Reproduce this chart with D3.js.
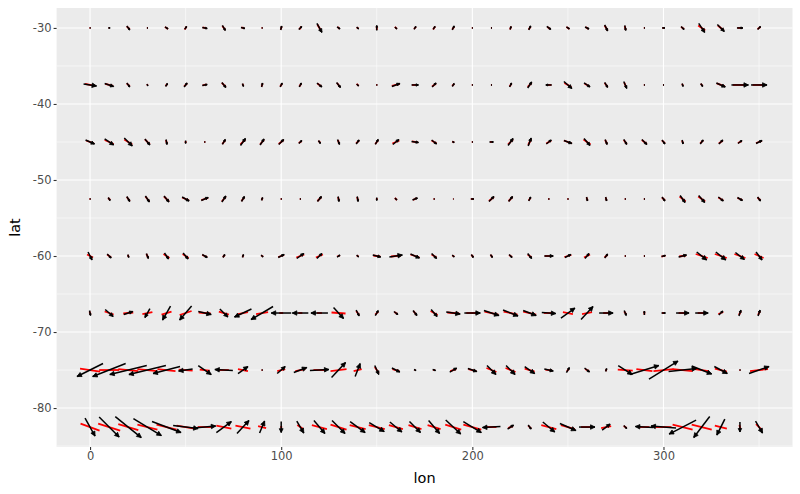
<!DOCTYPE html>
<html>
<head>
<meta charset="utf-8">
<script src="https://cdn.jsdelivr.net/npm/d3@7"></script>
<style>
  body { margin: 0; background: #fff; }
  text { font-family: "DejaVu Sans", sans-serif; }
</style>
</head>
<body>
<svg id="chart" width="800" height="494"></svg>
<script>
'use strict';

// grid of the field
var lons = [0, 10, 20, 30, 40, 50, 60, 70, 80, 90, 100, 110, 120, 130, 140, 150, 160, 170,
            180, 190, 200, 210, 220, 230, 240, 250, 260, 270, 280, 290, 300, 310, 320, 330, 340, 350];
var lats = [-30, -37.5, -45, -52.5, -60, -67.5, -75, -82.5];

var xTicks = [0, 100, 200, 300];
var yTicks = [-80, -70, -60, -50, -40, -30];

// black arrows, [u, v] per lon, one row per lat
var blackVec = [
  [[1,0],[2,0],[3,-4],[1,0],[3,-2],[2,3],[5,-1],[3,-5],[4,-1],[1,0],[1,4],[3,3],[5,-9],[3,-2],[2,-2],[0,5],[2,-2],[2,3],
   [2,3],[2,4],[1,0],[1,0],[1,3],[2,4],[4,-3],[3,-2],[4,-2],[3,-6],[1,-5],[1,0],[3,0],[3,-3],[6,-9],[7,-7],[6,0],[3,3]],
  [[13,-2],[9,-3],[3,-4],[1,-2],[2,3],[3,4],[5,1],[4,-5],[1,-3],[1,4],[2,4],[2,4],[5,-4],[4,-5],[2,-2],[1,0],[8,3],[7,0],
   [4,4],[2,3],[1,0],[1,0],[2,4],[4,6],[-6,0],[8,-7],[6,-4],[3,-5],[3,-7],[1,0],[1,0],[1,-3],[2,-3],[9,-4],[17,0],[16,0]],
  [[9,-4],[9,-6],[8,-8],[5,-6],[1,-5],[0,-3],[1,0],[3,5],[5,7],[4,6],[5,5],[3,3],[2,-3],[2,-5],[3,4],[3,5],[6,5],[7,-1],
   [5,-4],[2,-1],[1,0],[4,0],[5,7],[3,8],[5,4],[8,-3],[6,-7],[2,-5],[3,-5],[5,-5],[3,-4],[1,-4],[3,4],[4,4],[4,3],[6,3]],
  [[1,0],[2,-3],[3,-5],[4,-6],[5,-6],[7,-4],[7,3],[4,6],[3,5],[1,3],[1,0],[1,0],[4,5],[1,-5],[1,-5],[0,-3],[2,-2],[5,2],
   [1,0],[0.5,0],[3,0],[5,5],[4,5],[2,4],[1,0],[1,0],[1,-4],[1,-4],[1,0],[1,0],[3,-4],[5,-7],[6,-7],[5,-4],[5,-3],[3,-4]],
  [[4,-8],[4,-4],[1,-3],[2,-5],[4,-6],[5,-6],[5,-3],[2,3],[1,3],[2,-2],[6,3],[7,5],[5,5],[3,2],[2,-2],[8,-2],[13,2],[9,-4],
   [5,-5],[2,-2],[2,-3],[2,-3],[3,-3],[4,-5],[9,0],[6,3],[4,5],[3,4],[1,0],[1,0],[4,1],[8,2],[10,-8],[10,-8],[9,-7],[6,-8]],
  [[1,-5],[8,-7],[9,3],[-5,-9],[-8,-14],[-12,-14],[13,-3],[8,-8],[-17,-8],[-22,-13],[-20,0],[-16,0],[-17,0],[10,-11],[3,-6],[3,5],[4,-3],[4,-5],
   [6,-7],[14,-2],[16,0],[15,-5],[15,-6],[13,-5],[14,-1],[14,10],[12,13],[14,0],[2,-5],[0,4],[4,0],[13,0],[13,0],[4,4],[2,6],[2,6]],
  [[-26,-13],[-33,-13],[-37,-9],[-37,-9],[-27,-7],[-14,-2],[13,-9],[-18,1],[10,7],[1,0],[8,7],[13,5],[19,1],[14,15],[5,13],[4,-9],[8,-4],[2,-1],
   [3,-1],[7,4],[9,-3],[9,-9],[9,-9],[10,-7],[9,-2],[3,5],[5,-4],[1,3],[14,-9],[29,9],[29,18],[28,3],[20,-8],[13,-7],[1,0],[20,7]],
  [[10,-18],[20,-20],[26,-21],[28,-17],[29,-11],[25,-3],[22,2],[15,11],[12,13],[5,12],[0,-11],[7,-12],[11,-13],[13,-13],[15,-11],[15,-9],[12,-10],[11,-11],
   [11,-13],[15,-14],[18,-11],[-18,-1],[6,4],[3,-4],[12,-10],[16,-7],[16,0],[8,6],[3,-3],[-18,1],[-25,2],[-27,-14],[-16,-21],[-8,-16],[0,-10],[7,-12]]
];

// red segments, [u, v] per lon, one row per lat
var redVec = [
  [[1,0],[1,0],[3,-3],[1,0],[3,-2],[2,3],[4,-1],[3,-4],[3,-1],[1,0],[1,3],[2,3],[4,-7],[2,-2],[2,-1],[0,4],[2,-2],[2,2],
   [2,3],[2,3],[1,0],[1,0],[1,3],[2,3],[3,-2],[3,-2],[3,-2],[3,-5],[1,-4],[1,0],[2,0],[3,-2],[7,-5],[6,-5],[5,0],[3,2]],
  [[10,-2],[8,-2],[3,-3],[1,-1],[2,2],[3,3],[4,1],[4,-4],[1,-2],[1,3],[2,3],[2,3],[4,-3],[3,-4],[2,-2],[1,0],[8,2],[6,0],
   [4,3],[2,2],[1,0],[1,0],[2,3],[4,4],[5,0],[7,-4],[5,-3],[3,-4],[2,-5],[1,0],[1,0],[1,-2],[2,-2],[8,-3],[14,0],[13,0]],
  [[8,-3],[9,-4],[8,-5],[5,-5],[1,-4],[0,-2],[1,0],[3,4],[5,5],[4,5],[5,4],[3,2],[2,-2],[1,-4],[3,3],[3,4],[7,3],[6,-1],
   [5,-3],[2,-1],[1,0],[3,0],[5,5],[3,6],[5,3],[8,-3],[7,-5],[2,-4],[3,-4],[5,-4],[3,-3],[1,-3],[3,3],[4,3],[4,2],[6,2]],
  [[1,0],[2,-2],[3,-4],[4,-5],[5,-5],[7,-3],[7,2],[4,5],[3,4],[1,2],[1,0],[1,0],[4,4],[1,-4],[1,-4],[0,-2],[2,-2],[4,2],
   [1,0],[0.5,0],[3,0],[5,4],[4,4],[2,3],[1,0],[1,0],[1,-3],[1,-3],[1,0],[1,0],[3,-3],[6,-5],[7,-5],[5,-3],[5,-2],[3,-3]],
  [[6,-3],[4,-3],[1,-2],[2,-4],[6,-4],[6,-4],[5,-2],[2,2],[1,2],[2,-1],[6,2],[8,3],[7,3],[3,1],[2,-1],[7,-1],[10,1],[9,-3],
   [5,-3],[2,-1],[2,-2],[2,-2],[3,-2],[4,-3],[8,0],[7,2],[6,3],[3,3],[1,0],[1,0],[4,1],[7,1],[12,-4],[12,-4],[11,-4],[9,-4]],
  [[1,-3],[9,-3],[10,1],[10,2],[10,3],[12,4],[12,-1],[10,-3],[10,2],[12,2],[4,0],[4,0],[5,0],[14,-1],[3,-4],[3,3],[3,-2],[3,-4],
   [7,-4],[12,-1],[12,0],[14,-3],[14,-3],[13,-3],[10,0],[10,-2],[10,2],[6,0],[2,-3],[0,3],[3,0],[8,0],[8,0],[5,2],[2,4],[2,4]],
  [[20,-3],[20,0],[20,-2],[20,-2],[18,-2],[14,-1],[10,-1],[10,0],[10,-2],[1,0],[8,2],[10,2],[12,0],[16,2],[8,2],[4,-6],[7,-2],[1,0],
   [2,0],[6,2],[8,-2],[10,-4],[10,-4],[10,-3],[7,-1],[2,3],[4,-2],[1,2],[15,-1],[16,-2],[20,2],[20,-2],[14,-2],[12,-3],[1,0],[18,2]],
  [[19,-7],[22,-7],[20,-6],[20,-5],[20,-5],[18,-3],[14,0],[15,-3],[15,-3],[8,-2],[2,0],[6,-4],[15,-4],[16,-5],[16,-4],[16,-4],[14,-4],[13,-4],
   [13,-4],[16,-5],[18,-5],[10,0],[5,2],[3,-3],[15,-4],[14,-4],[12,0],[10,2],[3,-2],[10,0],[16,0],[20,-5],[20,-5],[12,-3],[1,-4],[6,-6]]
];

var panel = { left: 56.6, right: 792.5, top: 8, bottom: 447 };

var svg = d3.select('#chart');

var x = d3.scaleLinear().domain([-17.5, 367.5]).range([panel.left, panel.right]),
    y = d3.scaleLinear().domain([-85.125, -27.375]).range([panel.bottom, panel.top]),
    len = d3.scaleLinear().domain([0, 10]).range([0, 10]);

function flatten( vecs ){
    var out = [];
    lats.forEach(function( lat, i ){
        lons.forEach(function( lon, j ){
            out.push({ lon: lon, lat: lat, u: vecs[i][j][0], v: vecs[i][j][1] });
        });
    });
    return out;
}

// arrows are centred on their grid point
function ends( d ){
    var cx = x(d.lon), cy = y(d.lat),
        dx = len(d.u) / 2, dy = -len(d.v) / 2;
    return { x1: cx - dx, y1: cy - dy, x2: cx + dx, y2: cy + dy };
}

function setEnds( sel ){
    sel.each(function( d ){
        var e = ends(d);
        d3.select(this).attr('x1', e.x1).attr('y1', e.y1).attr('x2', e.x2).attr('y2', e.y2);
    });
}

// panel + grid
svg.append('rect')
    .attr('x', panel.left).attr('y', panel.top)
    .attr('width', panel.right - panel.left).attr('height', panel.bottom - panel.top)
    .attr('fill', '#ebebeb');

var grid = svg.append('g').attr('stroke', '#fff');
[50, 150, 250, 350].forEach(function( v ){
    grid.append('line').attr('x1', x(v)).attr('x2', x(v))
        .attr('y1', panel.top).attr('y2', panel.bottom).attr('stroke-width', 0.55);
});
[-35, -45, -55, -65, -75, -85].forEach(function( v ){
    grid.append('line').attr('y1', y(v)).attr('y2', y(v))
        .attr('x1', panel.left).attr('x2', panel.right).attr('stroke-width', 0.55);
});
xTicks.forEach(function( v ){
    grid.append('line').attr('x1', x(v)).attr('x2', x(v))
        .attr('y1', panel.top).attr('y2', panel.bottom).attr('stroke-width', 1.1);
});
yTicks.forEach(function( v ){
    grid.append('line').attr('y1', y(v)).attr('y2', y(v))
        .attr('x1', panel.left).attr('x2', panel.right).attr('stroke-width', 1.1);
});

// red segments underneath
svg.append('g').selectAll('line')
    .data(flatten(redVec))
    .enter().append('line')
    .call(setEnds)
    .attr('stroke', '#ff0000')
    .attr('stroke-width', 1.8);

// black arrows on top, head shrinks with short vectors
var arrows = svg.append('g').selectAll('g')
    .data(flatten(blackVec))
    .enter().append('g');

arrows.append('line')
    .call(setEnds)
    .attr('stroke', '#000')
    .attr('stroke-width', 1.5);

arrows.append('path')
    .attr('d', function( d ){
        var e = ends(d),
            L = Math.hypot(e.x2 - e.x1, e.y2 - e.y1),
            ang = Math.atan2(e.y2 - e.y1, e.x2 - e.x1),
            hl = Math.min(4.5, 0.35 * L), hw = hl * 0.5,
            bx = e.x2 - hl * Math.cos(ang), by = e.y2 - hl * Math.sin(ang);
        return 'M' + e.x2 + ',' + e.y2 +
            'L' + (bx - hw * Math.sin(ang)) + ',' + (by + hw * Math.cos(ang)) +
            'L' + (bx + hw * Math.sin(ang)) + ',' + (by - hw * Math.cos(ang)) + 'Z';
    })
    .attr('fill', '#000')
    .attr('stroke', '#000')
    .attr('stroke-width', 0.8);

// axes
var fmt = function( d ){ return String(d); };
var xAxis = svg.append('g')
    .attr('transform', 'translate(0,' + panel.bottom + ')')
    .call(d3.axisBottom(x).tickValues(xTicks).tickSize(3).tickPadding(2).tickFormat(fmt));
var yAxis = svg.append('g')
    .attr('transform', 'translate(' + panel.left + ',0)')
    .call(d3.axisLeft(y).tickValues(yTicks).tickSize(3).tickPadding(2).tickFormat(fmt));

[xAxis, yAxis].forEach(function( a ){
    a.select('.domain').remove();
    a.selectAll('.tick line').attr('stroke', '#333').attr('stroke-width', 1.1);
    a.selectAll('.tick text').attr('fill', '#4d4d4d').attr('font-size', 11.5)
        .attr('font-family', '"DejaVu Sans", sans-serif');
});

svg.append('text')
    .attr('x', (panel.left + panel.right) / 2).attr('y', 483)
    .attr('text-anchor', 'middle').attr('font-size', 14.5).attr('fill', '#000')
    .text('lon');

svg.append('text')
    .attr('transform', 'translate(20,' + ((panel.top + panel.bottom) / 2) + ') rotate(-90)')
    .attr('text-anchor', 'middle').attr('font-size', 14.5).attr('fill', '#000')
    .text('lat');
</script>
</body>
</html>
